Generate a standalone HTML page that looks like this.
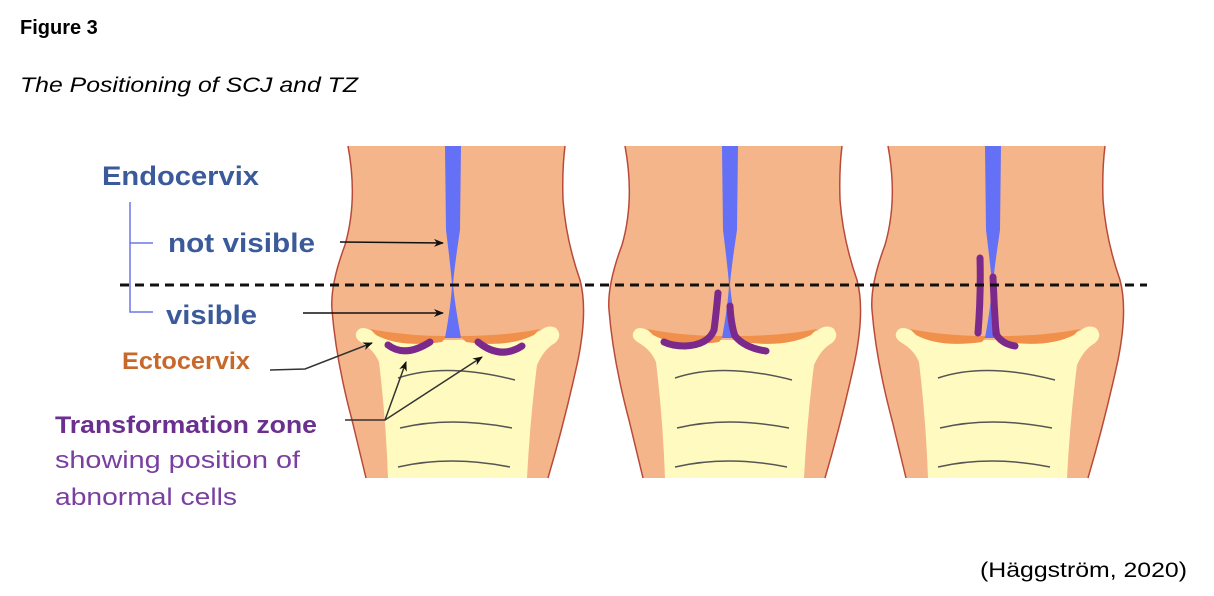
<!DOCTYPE html>
<html><head><meta charset="utf-8"><style>
html,body{margin:0;padding:0;background:#fff;}
svg{display:block;}
</style></head><body>
<svg width="1214" height="596" viewBox="0 0 1214 596" xmlns="http://www.w3.org/2000/svg">
<defs>
<g id="fig">
  <path d="M348,146 Q358,200 345,245 Q330,285 332,310 Q336,360 352,420 L366,478 L548,478 Q565,420 578,360 Q588,310 580,280 Q566,240 563,200 Q562,170 565,146 Z" fill="#f4b58a"/>
  <path d="M348,146 Q358,200 345,245 Q330,285 332,310 Q336,360 352,420 L366,478" fill="none" stroke="#b94a3a" stroke-width="1.5"/>
  <path d="M565,146 Q562,170 563,200 Q566,240 580,280 Q588,310 578,360 Q565,420 548,478" fill="none" stroke="#b94a3a" stroke-width="1.5"/>
  <path d="M358,330 Q352,337 362,343 Q374,350 379,362 Q386,420 388,478 L527,478 Q530,420 537,365 Q544,349 555,343 Q563,336 556,328 Q548,324 540,331 Q500,340 452,340 Q405,340 370,330 Q362,326 358,330 Z" fill="#fffbc0"/>
  <path d="M370,329 Q405,336 447,336 L442,342 Q400,348 376,335 Z" fill="#f0904a"/>
  <path d="M540,329 Q505,336 460,336 L466,342 Q508,348 534,335 Z" fill="#f0904a"/>
  <path d="M445,146 L461,146 L460,230 Q454,270 453,285 Q455,305 461,338 L445,338 Q451,305 452,285 Q451,270 446,230 Z" fill="#6470f5"/>
  <path d="M398,378 Q445,362 515,380 M400,428 Q450,416 512,428 M398,467 Q450,455 510,467" fill="none" stroke="#555" stroke-width="1.5"/>
</g>
<marker id="ah" markerWidth="10" markerHeight="8" refX="9" refY="4" orient="auto" markerUnits="userSpaceOnUse"><path d="M0,0 L10,4 L0,8 L3,4 Z" fill="#111"/></marker>
</defs>

<text x="20" y="34" font-family="Liberation Sans, sans-serif" font-weight="bold" font-size="20" fill="#000">Figure 3</text>
<text x="20" y="92" font-family="Liberation Sans, sans-serif" font-style="italic" font-size="21" fill="#000" textLength="338" lengthAdjust="spacingAndGlyphs">The Positioning of SCJ and TZ</text>

<use href="#fig"/>
<use href="#fig" x="277"/>
<use href="#fig" x="540"/>

<path d="M388,345 Q405,358 430,342 M478,342 Q500,360 522,346" fill="none" stroke="#7b2a8c" stroke-width="7" stroke-linecap="round"/>
<path d="M718,293 Q716,315 714,330 Q708,345 685,346 Q672,346 664,342 M730,306 Q731,325 735,336 Q745,348 766,351" fill="none" stroke="#7b2a8c" stroke-width="7" stroke-linecap="round"/>
<path d="M980,258 Q981,295 978,333 M993,277 Q994,305 996,334 Q1002,344 1015,346" fill="none" stroke="#7b2a8c" stroke-width="7" stroke-linecap="round"/>

<line x1="120" y1="285" x2="1147" y2="285" stroke="#111" stroke-width="3" stroke-dasharray="9,6"/>

<text x="102" y="185" font-family="Liberation Sans, sans-serif" font-weight="bold" font-size="27" fill="#3b5a9a" textLength="157" lengthAdjust="spacingAndGlyphs">Endocervix</text>
<path d="M130,202 L130,312 L153,312 M130,243 L153,243" fill="none" stroke="#6a78e8" stroke-width="1.5"/>
<text x="168" y="252" font-family="Liberation Sans, sans-serif" font-weight="bold" font-size="27" fill="#3b5a9a" textLength="147" lengthAdjust="spacingAndGlyphs">not visible</text>
<text x="166" y="324" font-family="Liberation Sans, sans-serif" font-weight="bold" font-size="27" fill="#3b5a9a" textLength="91" lengthAdjust="spacingAndGlyphs">visible</text>
<text x="122" y="369" font-family="Liberation Sans, sans-serif" font-weight="bold" font-size="24" fill="#c8692c" textLength="128" lengthAdjust="spacingAndGlyphs">Ectocervix</text>
<text x="55" y="433" font-family="Liberation Sans, sans-serif" font-weight="bold" font-size="24" fill="#6b2f8f" textLength="262" lengthAdjust="spacingAndGlyphs">Transformation zone</text>
<text x="55" y="468" font-family="Liberation Sans, sans-serif" font-size="24" fill="#7a3fa0" textLength="245" lengthAdjust="spacingAndGlyphs">showing position of</text>
<text x="55" y="505" font-family="Liberation Sans, sans-serif" font-size="24" fill="#7a3fa0" textLength="182" lengthAdjust="spacingAndGlyphs">abnormal cells</text>

<line x1="340" y1="242" x2="443" y2="243" stroke="#111" stroke-width="1.5" marker-end="url(#ah)"/>
<line x1="303" y1="313" x2="443" y2="313" stroke="#111" stroke-width="1.5" marker-end="url(#ah)"/>
<path d="M270,370 L305,369 L372,343" fill="none" stroke="#333" stroke-width="1.5" marker-end="url(#ah)"/>
<path d="M345,420 L385,420 L406,362" fill="none" stroke="#333" stroke-width="1.5" marker-end="url(#ah)"/>
<line x1="385" y1="420" x2="482" y2="357" stroke="#333" stroke-width="1.5" marker-end="url(#ah)"/>

<text x="980" y="577" font-family="Liberation Sans, sans-serif" font-size="21" fill="#000" textLength="207" lengthAdjust="spacingAndGlyphs">(Häggström, 2020)</text>
</svg>
</body></html>
